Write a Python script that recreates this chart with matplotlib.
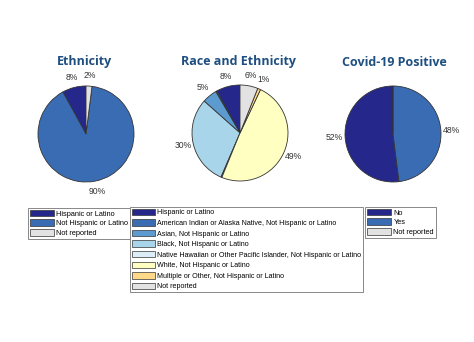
import matplotlib
matplotlib.use("Agg")
import matplotlib.pyplot as plt
from matplotlib.patches import Patch

# ---- data ----
eth_labels = ["Hispanic or Latino", "Not Hispanic or Latino", "Not reported"]
eth_values = [8, 90, 2]

race_labels = ["Hispanic or Latino",
               "American Indian or Alaska Native, Not Hispanic or Latino",
               "Asian, Not Hispanic or Latino",
               "Black, Not Hispanic or Latino",
               "Native Hawaiian or Other Pacific Islander, Not Hispanic or Latino",
               "White, Not Hispanic or Latino",
               "Multiple or Other, Not Hispanic or Latino",
               "Not reported"]
race_values = [8, 0.4, 5, 30, 0.3, 49, 1, 6]

covid_labels = ["No", "Yes", "Not reported"]
covid_values = [52, 48, 0]

titles = ["Ethnicity", "Race and Ethnicity", "Covid-19 Positive"]

# ---- style ----
NAVY = "#25288a"
BLUE = "#3a6cb4"
ASIAN = "#5b9bd0"
BLACK = "#a8d5ea"
NH = "#dcedf8"
WHITE = "#ffffc2"
MULT = "#ffd88a"
GRAY = "#e2e2e2"
eth_colors = [NAVY, BLUE, GRAY]
race_colors = [NAVY, BLUE, ASIAN, BLACK, NH, WHITE, MULT, GRAY]
covid_colors = [NAVY, BLUE, GRAY]
TITLE_C = "#1f4f80"

W, H = 474, 342
fig = plt.figure(figsize=(W / 100, H / 100), dpi=100)
fig.patch.set_facecolor("white")
ax = fig.add_axes([0, 0, 1, 1])

def pct_fmt(p):
    return "%.0f%%" % p if p >= 0.9 else ""

R = 48
centers = [(86, 134), (240, 133), (393, 134)]
datasets = [(eth_values, eth_colors), (race_values, race_colors), (covid_values, covid_colors)]
for (cx, cy), (vals, cols) in zip(centers, datasets):
    ax.pie(vals, colors=cols, startangle=90, counterclock=True, radius=R,
           center=(cx, H - cy), autopct=pct_fmt, pctdistance=1.22,
           wedgeprops=dict(edgecolor="#333333", linewidth=0.6),
           textprops=dict(fontsize=6.2, color="#333333", family="Liberation Sans"))
ax.set_xlim(0, W)
ax.set_ylim(0, H)
ax.set_aspect("equal")
ax.axis("off")

title_pos = [(85, 61), (239, 62), (394, 63)]
for t, (x, y) in zip(titles, title_pos):
    fig.text(x / W, 1 - y / H, t, ha="center", va="center", fontsize=9,
             fontweight="bold", color=TITLE_C, family="Open Sans")

def make_legend(labels, colors, x, y, size, spacing):
    handles = [Patch(facecolor=c, edgecolor="#333333", linewidth=0.5) for c in colors]
    leg = fig.legend(handles, labels, loc="upper left",
                     bbox_to_anchor=(x / W, 1 - y / H), bbox_transform=fig.transFigure,
                     prop=dict(family="Liberation Sans", size=size),
                     frameon=True, fancybox=False, shadow=False,
                     handlelength=3.3, handleheight=1.0, handletextpad=0.3,
                     labelspacing=spacing, borderpad=0.25, borderaxespad=0)
    fr = leg.get_frame()
    fr.set_edgecolor("#888888")
    fr.set_linewidth(0.7)
    fr.set_alpha(1)
    return leg

make_legend(eth_labels, eth_colors, 28, 208, 5.3, 0.25)
make_legend(race_labels, race_colors, 130, 207, 5.1, 0.42)
make_legend(covid_labels, covid_colors, 365, 207, 5.3, 0.25)

fig.savefig("out.png", dpi=100, facecolor="white")
